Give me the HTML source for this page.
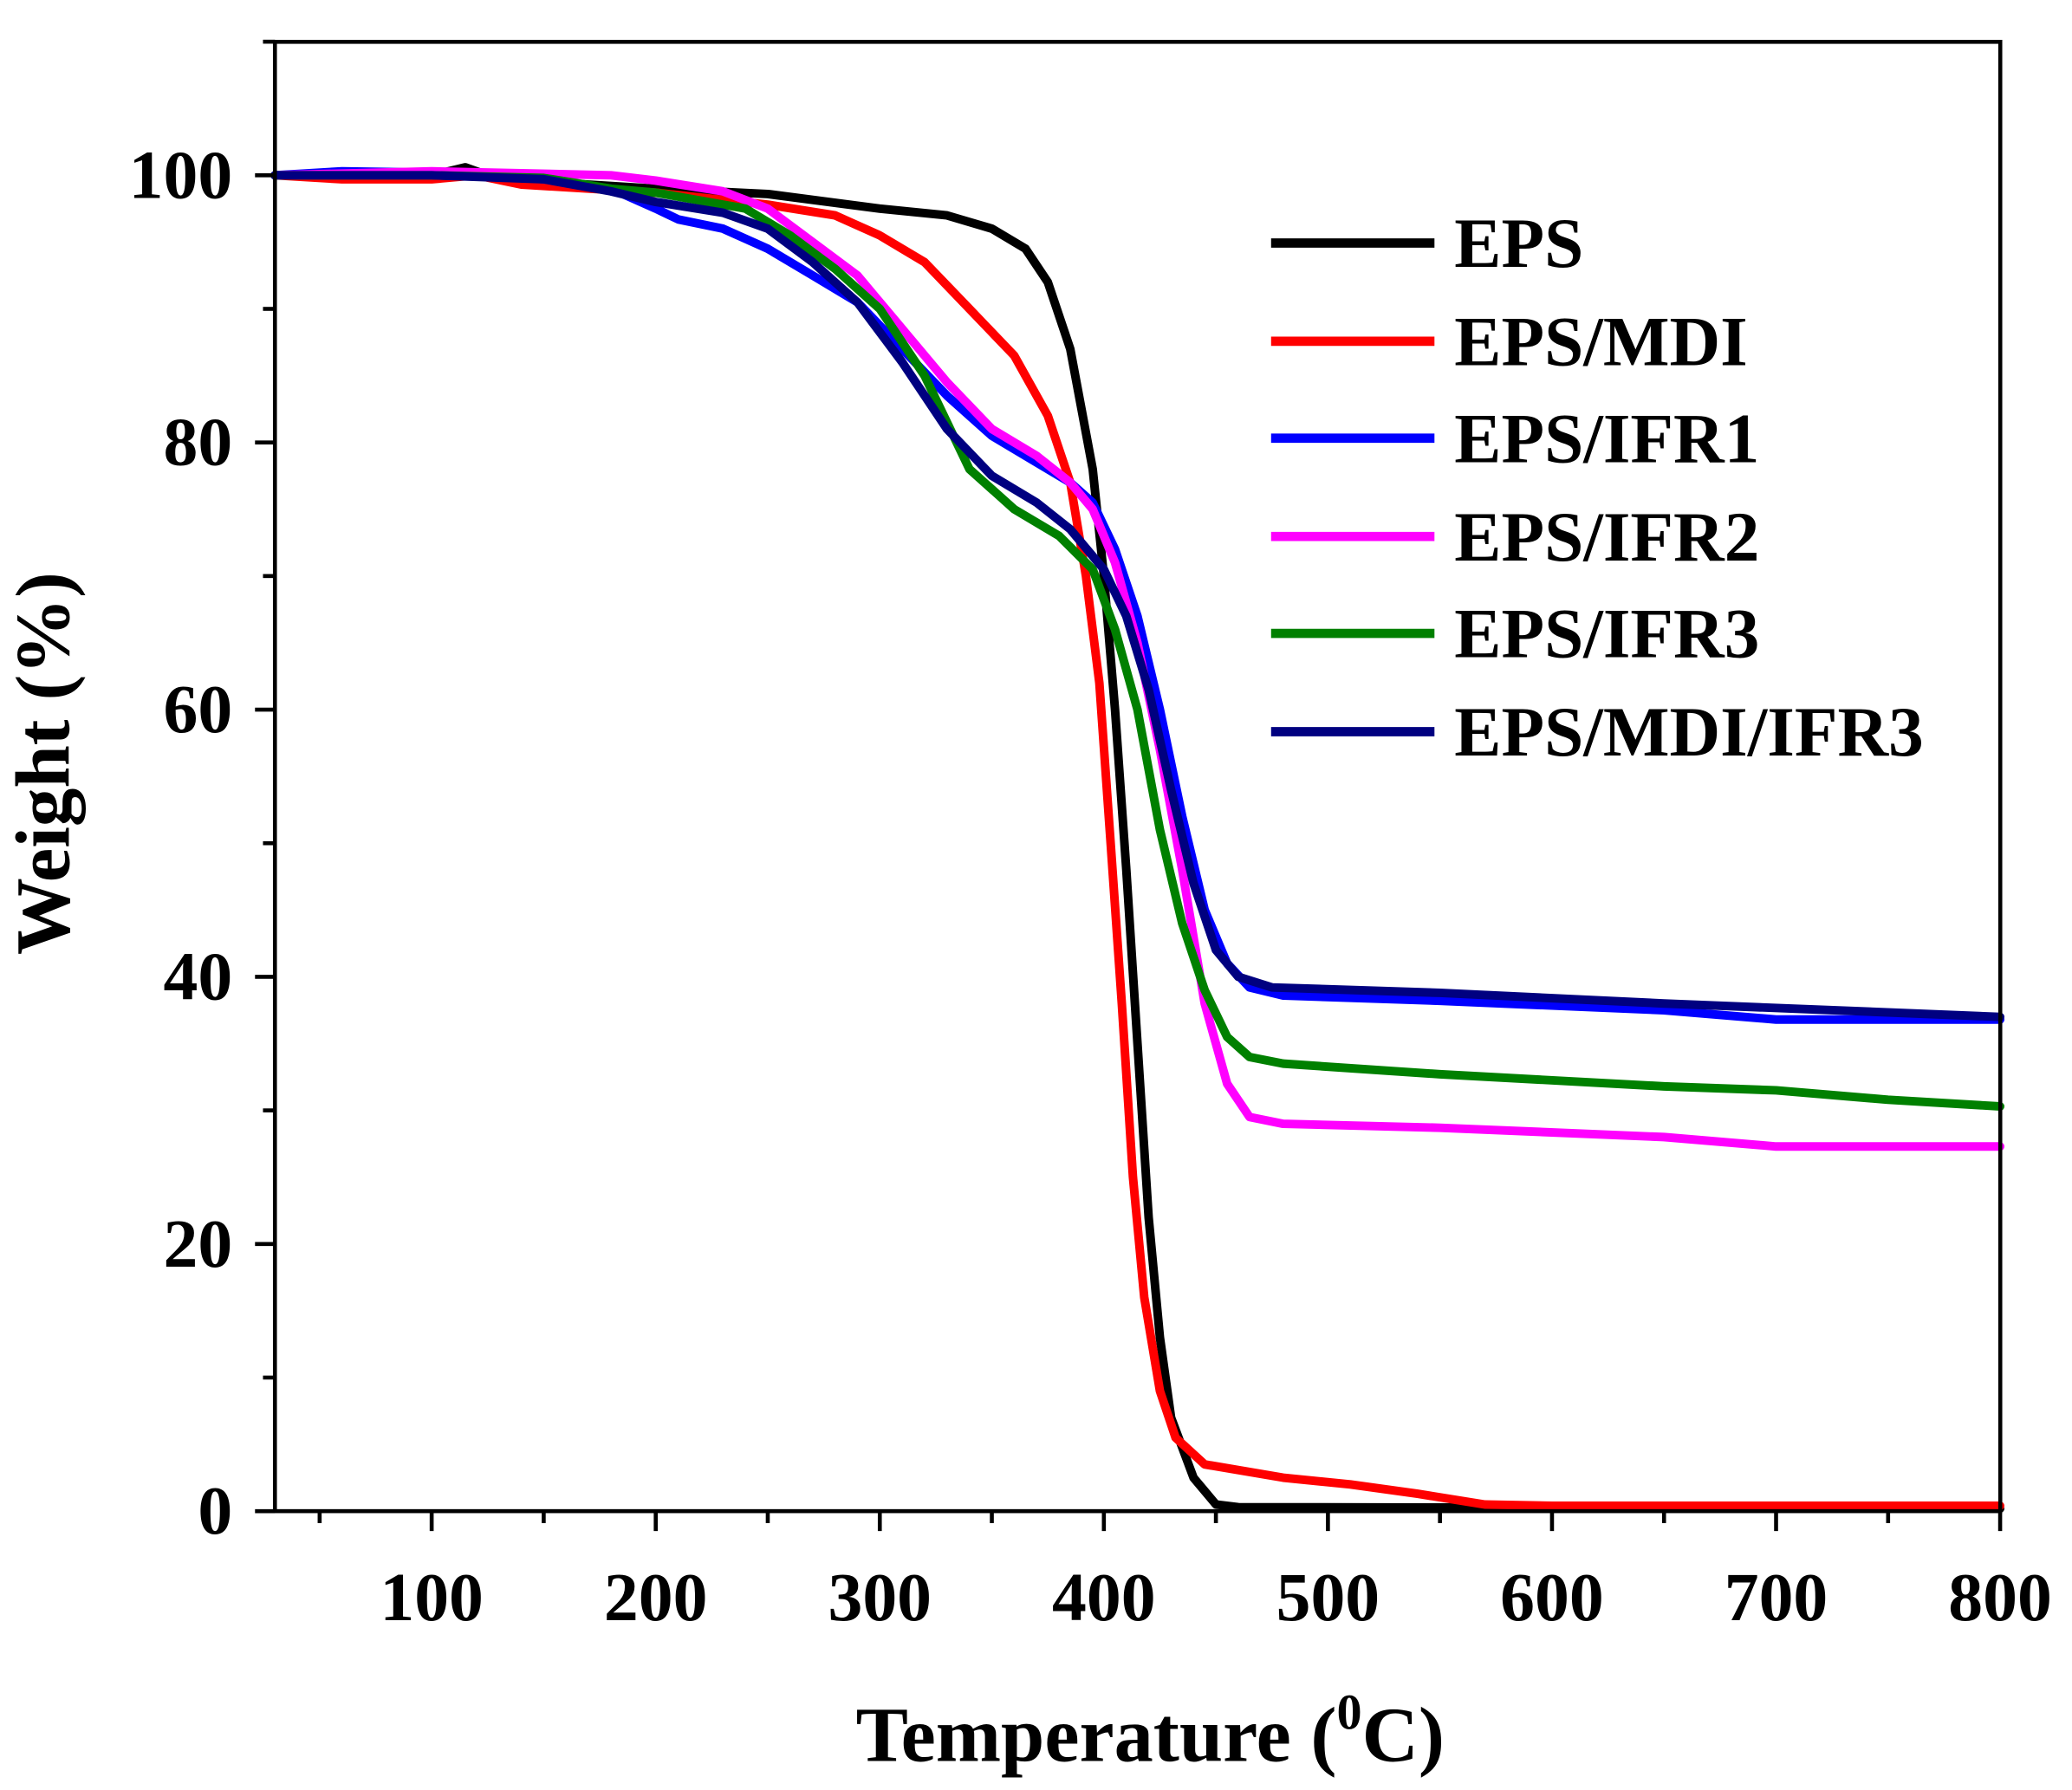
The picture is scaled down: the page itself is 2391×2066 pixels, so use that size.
<!DOCTYPE html>
<html><head><meta charset="utf-8"><style>
html,body{margin:0;padding:0;background:#fff}
svg{display:block}
text{font-family:"Liberation Serif",serif;font-weight:bold;fill:#000}
</style></head><body>
<svg id="s" width="2391" height="2066" viewBox="0 0 1560 1348" preserveAspectRatio="none" xmlns="http://www.w3.org/2000/svg">
<g id="curves" fill="none" stroke-width="6.5" stroke-linejoin="round" stroke-linecap="round"></g>
<rect x="207" y="31.5" width="1299" height="1106.5" fill="none" stroke="#000" stroke-width="3"/>
<g id="ticks" stroke="#000" stroke-width="3"></g>
<g font-size="52" text-anchor="end" id="ylab"></g>
<g font-size="52" text-anchor="middle" id="xlab"></g>
<text x="866" y="1326" font-size="59" text-anchor="middle">Temperature (<tspan font-size="38" dy="-24">0</tspan><tspan dy="24">C)</tspan></text>
<text transform="translate(52,575) rotate(-90)" font-size="58" text-anchor="middle">Weight (%)</text>
<g id="legend" stroke-width="7" font-size="53"></g>
</svg>
<script>
var X=function(t){return 325+(t-100)*1.687;};
var Y=function(w){return 1138-w*10.06;};
var NS="http://www.w3.org/2000/svg";
function el(p,n,a,txt){var e=document.createElementNS(NS,n);for(var k in a)e.setAttribute(k,a[k]);if(txt!==undefined)e.textContent=txt;document.getElementById(p).appendChild(e);return e;}
var data=[
["#000","EPS",[[30,100],[100,100],[115,100.6],[125,100],[150,99.5],[200,99],[250,98.6],[300,97.5],[330,97],[350,96],[365,94.5],[375,92],[385,87],[395,78],[400,70],[405,60],[410,48],[415,35],[420,22],[425,13],[430,7],[440,2.5],[450,0.5],[460,0.3],[800,0.2]]],
["#ff0000","EPS/MDI",[[30,100],[60,99.7],[100,99.7],[120,100],[140,99.3],[200,98.7],[250,97.8],[280,97],[300,95.5],[320,93.5],[340,90],[360,86.5],[375,82],[385,77],[392,70],[398,62],[403,50],[408,38],[413,25],[418,16],[425,9],[432,5.5],[445,3.5],[480,2.5],[510,2],[540,1.3],[570,0.5],[600,0.4],[800,0.4]]],
["#0000ff","EPS/IFR1",[[30,100],[60,100.3],[100,100.2],[120,100.1],[150,99.7],[180,99],[200,97.5],[210,96.7],[230,96],[250,94.5],[270,92.5],[290,90.5],[310,87],[330,83.5],[350,80.5],[370,78.5],[385,77],[395,75.5],[405,72],[415,67],[425,60],[435,52],[445,45],[455,41],[465,39.2],[480,38.6],[550,38.2],[650,37.5],[700,36.8],[800,36.8]]],
["#ff00ff","EPS/IFR2",[[30,100],[100,100.3],[180,100],[200,99.6],[230,98.8],[250,97.5],[270,95],[290,92.5],[310,88.5],[330,84.5],[350,81],[370,79],[385,77],[395,75],[405,71],[415,65],[425,57],[435,48],[445,38],[455,32],[465,29.5],[480,29],[550,28.7],[650,28],[700,27.3],[800,27.3]]],
["#008000","EPS/IFR3",[[30,100],[100,100],[150,99.8],[180,99],[200,98.7],[240,97.5],[260,95.5],[280,93],[300,90],[320,85],[340,78],[360,75],[380,73],[395,70.5],[405,66],[415,60],[425,51],[435,44],[445,39],[455,35.5],[465,34],[480,33.5],[550,32.7],[650,31.8],[700,31.5],[750,30.8],[800,30.3]]],
["#000080","EPS/MDI/IFR3",[[30,100],[100,100],[150,99.7],[180,98.8],[200,98],[230,97.2],[250,96],[270,93.5],[290,90.5],[310,86],[330,81],[350,77.5],[370,75.5],[385,73.5],[400,70.5],[410,67],[420,61.5],[430,54],[440,47],[450,42],[460,40],[475,39.2],[550,38.8],[650,38],[800,37]]]
];
var ly=[183,257,330,404,477,551];
data.forEach(function(d,i){
 el("curves","polyline",{points:d[2].map(function(p){return X(p[0]).toFixed(1)+","+Y(p[1]).toFixed(1);}).join(" "),stroke:d[0]});
 el("legend","line",{x1:957,x2:1080,y1:ly[i],y2:ly[i],stroke:d[0]});
 el("legend","text",{x:1095,y:ly[i]+18},d[1]);
});
for(var w=0;w<=110;w+=10){var y=Y(w);var maj=(w%20==0);el("ticks","line",{x1:207,x2:207-(maj?15:9),y1:y,y2:y});if(maj)el("ylab","text",{x:175,y:y+17},String(w));}
for(var t=50;t<=800;t+=50){var x=X(t);var maj=(t%100==0);el("ticks","line",{x1:x,x2:x,y1:1138,y2:1138+(maj?15:9)});if(maj)el("xlab","text",{x:x,y:1220},String(t));}
</script>
</body></html>
